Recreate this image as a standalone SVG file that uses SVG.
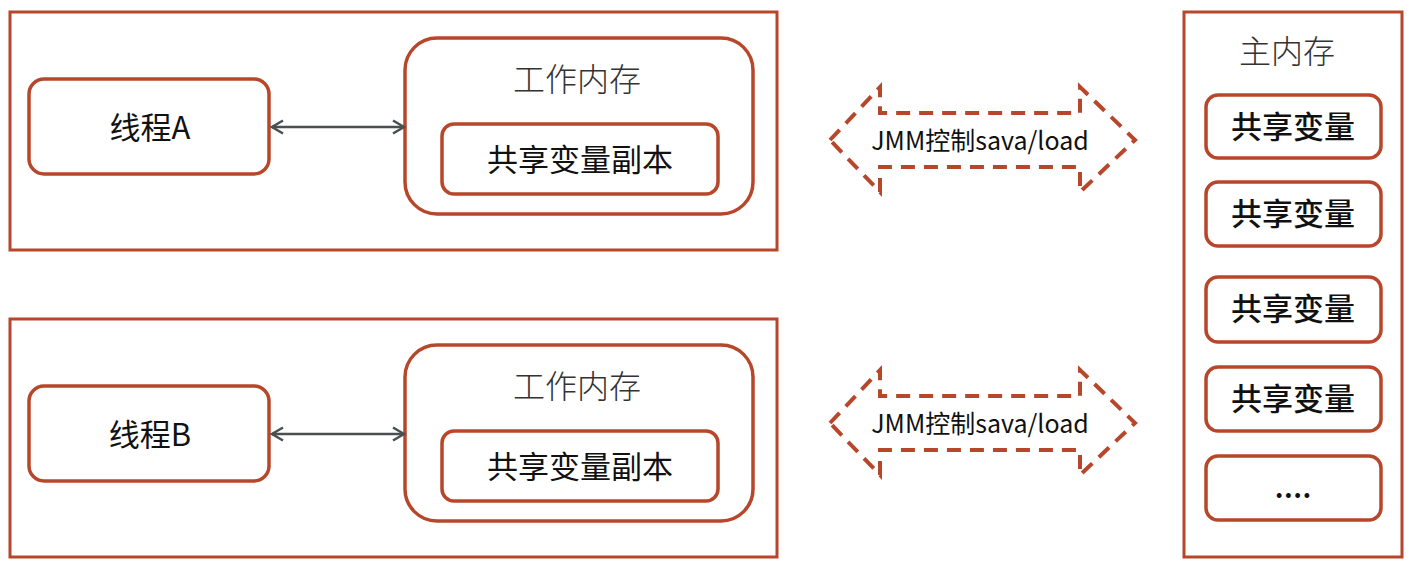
<svg xmlns="http://www.w3.org/2000/svg" width="1412" height="570" viewBox="0 0 1412 570">
<style>
.frame{fill:#fff;stroke:#B7472A;stroke-width:3}
.node{fill:#fff;stroke:#B7472A;stroke-width:3.5}
.dash{fill:none;stroke:#B7472A;stroke-width:4;stroke-dasharray:14 9}
.conn{stroke:#4A5050;stroke-width:2.5;fill:none}
.t{font-family:"Noto Sans CJK SC","Liberation Sans",sans-serif;text-anchor:middle;dominant-baseline:central;fill:#111}
.big{font-size:31px}
.var{font-size:31px;font-weight:500}
.mid{font-size:25px}
.hdr{font-size:32px;fill:#333;font-weight:300}
</style>
<defs>
<marker id="ah" markerWidth="16" markerHeight="16" refX="13" refY="8" orient="auto-start-reverse" markerUnits="userSpaceOnUse">
<path d="M2,1.5 L13,8 L2,14.5" fill="none" stroke="#4A5050" stroke-width="2.5"/>
</marker>
</defs>
<rect width="1412" height="570" fill="#fff"/>

<g id="threadA-frame">
<rect class="frame" x="10" y="12" width="767" height="238"/>
</g>
<g id="threadA">
<rect class="node" x="29" y="79" width="240" height="95" rx="15"/>
<text class="t big" x="150" y="125">线程A</text>
</g>
<g id="workA">
<rect class="node" x="405" y="38" width="348" height="176" rx="32"/>
<text class="t hdr" x="577" y="77">工作内存</text>
</g>
<g id="copyA">
<rect class="node" x="442" y="124" width="276" height="70" rx="12"/>
<text class="t big" x="580" y="157">共享变量副本</text>
</g>

<g id="threadB-frame">
<rect class="frame" x="10" y="319" width="767" height="238"/>
</g>
<g id="threadB">
<rect class="node" x="29" y="386" width="240" height="95" rx="15"/>
<text class="t big" x="150" y="432">线程B</text>
</g>
<g id="workB">
<rect class="node" x="405" y="345" width="348" height="176" rx="32"/>
<text class="t hdr" x="577" y="384">工作内存</text>
</g>
<g id="copyB">
<rect class="node" x="442" y="431" width="276" height="70" rx="12"/>
<text class="t big" x="580" y="464">共享变量副本</text>
</g>

<g id="main">
<rect class="frame" x="1184" y="12" width="218" height="545"/>
<text class="t hdr" x="1287" y="49">主内存</text>
</g>
<g id="var1"><rect class="node" x="1206" y="95" width="175" height="63" rx="12"/><text class="t var" x="1293" y="124">共享变量</text></g>
<g id="var2"><rect class="node" x="1206" y="182" width="175" height="64" rx="12"/><text class="t var" x="1293" y="211">共享变量</text></g>
<g id="var3"><rect class="node" x="1206" y="277" width="175" height="65" rx="12"/><text class="t var" x="1293" y="306">共享变量</text></g>
<g id="var4"><rect class="node" x="1206" y="367" width="175" height="64" rx="12"/><text class="t var" x="1293" y="396">共享变量</text></g>
<g id="var5"><rect class="node" x="1206" y="456" width="175" height="64" rx="12"/><text class="t var" x="1293" y="484" font-weight="bold">....</text></g>

<g id="jmm1">
<path class="dash" d="M830,140 L880,87 L880,113 L1080,113 L1080,87 L1135,140 L1080,192 L1080,167 L880,167 L880,192 Z"/>
<text class="t mid" x="980" y="139">JMM控制sava/load</text>
</g>
<g id="jmm2">
<path class="dash" d="M830,423 L880,370 L880,396 L1080,396 L1080,370 L1135,423 L1080,475 L1080,450 L880,450 L880,475 Z"/>
<text class="t mid" x="980" y="422">JMM控制sava/load</text>
</g>

<g id="connectors">
<line class="conn" x1="272" y1="127" x2="404" y2="127" marker-start="url(#ah)" marker-end="url(#ah)"/>
<line class="conn" x1="272" y1="434" x2="404" y2="434" marker-start="url(#ah)" marker-end="url(#ah)"/>
</g>
</svg>
